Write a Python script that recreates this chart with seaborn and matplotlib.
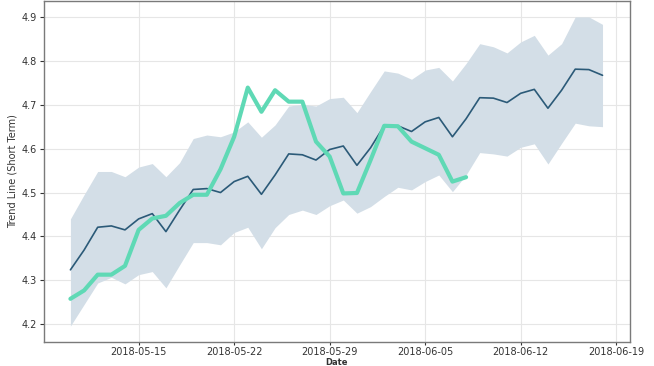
import numpy as np
import pandas as pd
import matplotlib
matplotlib.use('Agg')
import matplotlib.pyplot as plt
import matplotlib.dates as mdates
import seaborn as sns

# ---- data ----
start_date = '2018-05-10'
n_days = 40

trend = [4.324, 4.369, 4.421, 4.424, 4.415, 4.440, 4.452, 4.411, 4.460, 4.507,
         4.509, 4.500, 4.525, 4.537, 4.496, 4.540, 4.588, 4.586, 4.574, 4.598,
         4.606, 4.562, 4.602, 4.652, 4.652, 4.639, 4.661, 4.671, 4.627, 4.668,
         4.716, 4.715, 4.705, 4.726, 4.735, 4.692, 4.733, 4.781, 4.780, 4.767]

upper = [4.440, 4.495, 4.548, 4.548, 4.536, 4.558, 4.566, 4.536, 4.568, 4.623,
         4.631, 4.627, 4.638, 4.661, 4.626, 4.654, 4.697, 4.701, 4.697, 4.714,
         4.717, 4.682, 4.730, 4.777, 4.772, 4.758, 4.779, 4.785, 4.754, 4.794,
         4.839, 4.832, 4.818, 4.843, 4.858, 4.813, 4.839, 4.900, 4.900, 4.883]

lower = [4.196, 4.245, 4.294, 4.307, 4.292, 4.313, 4.320, 4.283, 4.335, 4.386,
         4.386, 4.381, 4.409, 4.421, 4.372, 4.420, 4.450, 4.460, 4.450, 4.470,
         4.483, 4.453, 4.468, 4.491, 4.512, 4.506, 4.525, 4.540, 4.502, 4.540,
         4.591, 4.588, 4.583, 4.603, 4.611, 4.565, 4.612, 4.658, 4.652, 4.650]

actual = [4.258, 4.277, 4.313, 4.313, 4.333, 4.415, 4.441, 4.447, 4.476, 4.495,
          4.495, 4.553, 4.627, 4.739, 4.684, 4.733, 4.707, 4.707, 4.616, 4.582,
          4.498, 4.499, 4.574, 4.652, 4.651, 4.616, 4.601, 4.586, 4.525, 4.535]

y_ticks = [4.2, 4.3, 4.4, 4.5, 4.6, 4.7, 4.8, 4.9]
x_ticks = ['2018-05-15', '2018-05-22', '2018-05-29', '2018-06-05', '2018-06-12', '2018-06-19']

dates = pd.date_range(start_date, periods=n_days)
df = pd.DataFrame({'ds': dates, 'trend': trend, 'upper': upper, 'lower': lower})
df_act = pd.DataFrame({'ds': dates[:len(actual)], 'y': actual})

sns.set_style('whitegrid')
plt.rcParams['font.family'] = ['DejaVu Sans']

fig, ax = plt.subplots(figsize=(6.54, 3.66), dpi=100)
fig.subplots_adjust(left=0.067, right=0.963, bottom=0.066, top=0.997)

ax.fill_between(df['ds'], df['lower'], df['upper'], color='#d3dee7', lw=0, zorder=1)
sns.lineplot(data=df, x='ds', y='trend', color='#2b5a78', lw=1.2, ax=ax, zorder=3)
sns.lineplot(data=df_act, x='ds', y='y', color='#5fd9b5', lw=3.0, ax=ax, zorder=4)

ax.set_xlim(pd.Timestamp(start_date) - pd.Timedelta(days=1.95),
            pd.Timestamp(start_date) + pd.Timedelta(days=41.0))
ax.set_ylim(4.16, 4.936)
ax.set_yticks(y_ticks)
ax.set_yticklabels([f'{v:.1f}' for v in y_ticks])
ax.set_xticks(pd.to_datetime(x_ticks))
ax.xaxis.set_major_formatter(mdates.DateFormatter('%Y-%m-%d'))

ax.grid(True, color='#e6e6e6', lw=0.8)
for s in ax.spines.values():
    s.set_visible(True)
    s.set_color('#7a7a7a')
    s.set_linewidth(1.0)
ax.tick_params(axis='y', labelsize=7, colors='#333333', length=3, width=0.8,
               direction='out', left=True, pad=2)
ax.tick_params(axis='x', labelsize=7, colors='#333333', length=2.5, width=0.8,
               direction='out', bottom=True, pad=1.5)

ax.set_xlabel('Date', fontsize=6, fontweight='bold', color='#333333')
ax.xaxis.set_label_coords(0.5, -0.047)
ax.set_ylabel('Trend Line (Short Term)', fontsize=7, color='#333333', labelpad=3)

plt.savefig('out.png', dpi=100)
